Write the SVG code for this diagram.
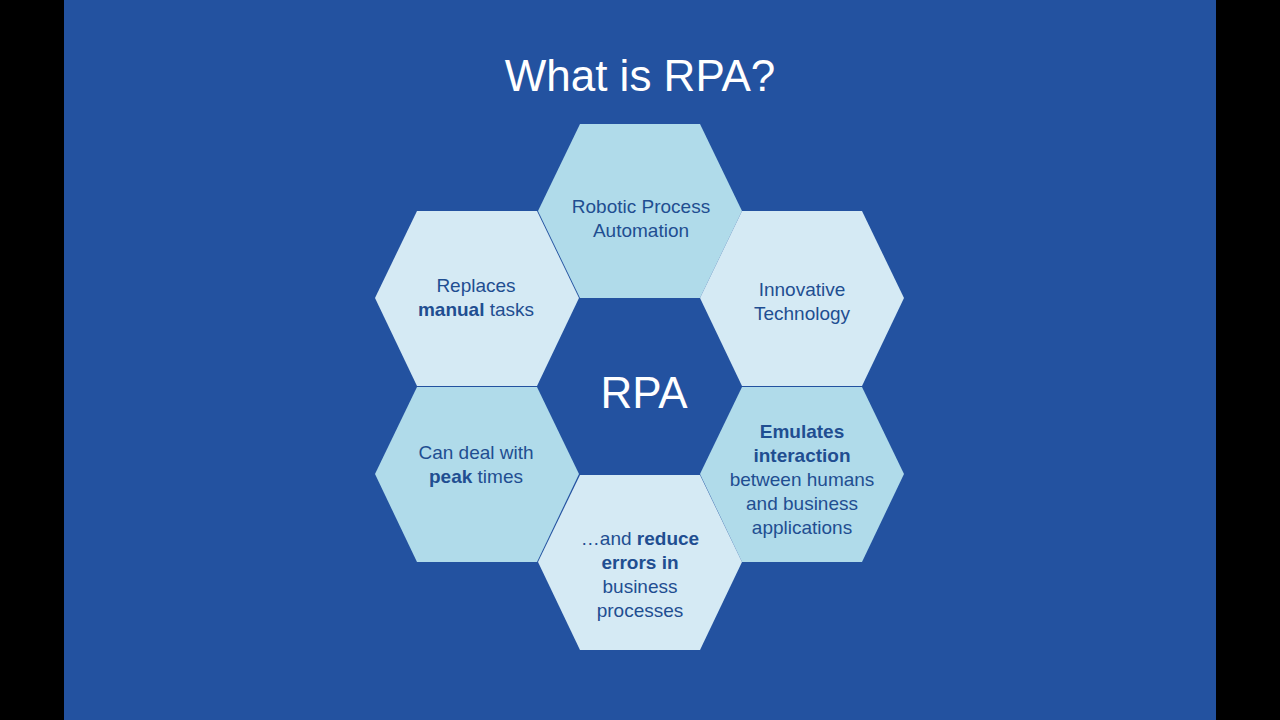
<svg xmlns="http://www.w3.org/2000/svg" width="1280" height="720" viewBox="0 0 1280 720">
<style>
.t{font-family:"Liberation Sans",Arial,sans-serif;font-size:19px;fill:#1F4E91;text-anchor:middle}
.b{font-weight:bold}
.d{fill:#B0DBEA}
.l{fill:#D5EAF4}
</style>
<rect width="1280" height="720" fill="#000"/>
<rect x="64" y="0" width="1152" height="720" fill="#2352A0"/>
<text x="640" y="91" font-family="'Liberation Sans',Arial,sans-serif" font-size="44" fill="#fff" text-anchor="middle">What is RPA?</text>
<g id="center"><text x="644" y="408" font-family="'Liberation Sans',Arial,sans-serif" font-size="44" fill="#fff" text-anchor="middle">RPA</text></g>
<g id="top"><polygon class="d" points="580,124 700,124 742,211 700,298 580,298 538,211"/>
<text class="t" x="641" y="213">Robotic Process</text><text class="t" x="641" y="237">Automation</text></g>
<g id="tl"><polygon class="l" points="417,211 537,211 579,298 537,386 417,386 375,298"/>
<text class="t" x="476" y="292">Replaces</text><text class="t" x="476" y="316"><tspan class="b">manual</tspan> tasks</text></g>
<g id="tr"><polygon class="l" points="742,211 862,211 904,298 862,386 742,386 700,298"/>
<text class="t" x="802" y="296">Innovative</text><text class="t" x="802" y="320">Technology</text></g>
<g id="bl"><polygon class="d" points="417,387 537,387 579,474 537,562 417,562 375,474"/>
<text class="t" x="476" y="459">Can deal with</text><text class="t" x="476" y="483"><tspan class="b">peak</tspan> times</text></g>
<g id="br"><polygon class="d" points="742,387 862,387 904,474 862,562 742,562 700,474"/>
<text class="t b" x="802" y="438">Emulates</text><text class="t b" x="802" y="462">interaction</text>
<text class="t" x="802" y="486">between humans</text><text class="t" x="802" y="510">and business</text><text class="t" x="802" y="534">applications</text></g>
<g id="bottom"><polygon class="l" points="580,475 700,475 742,562 700,650 580,650 538,562"/>
<text class="t" x="640" y="545">…and <tspan class="b">reduce</tspan></text><text class="t b" x="640" y="569">errors in</text>
<text class="t" x="640" y="593">business</text><text class="t" x="640" y="617">processes</text></g>
<g id="connectors"/>
</svg>
